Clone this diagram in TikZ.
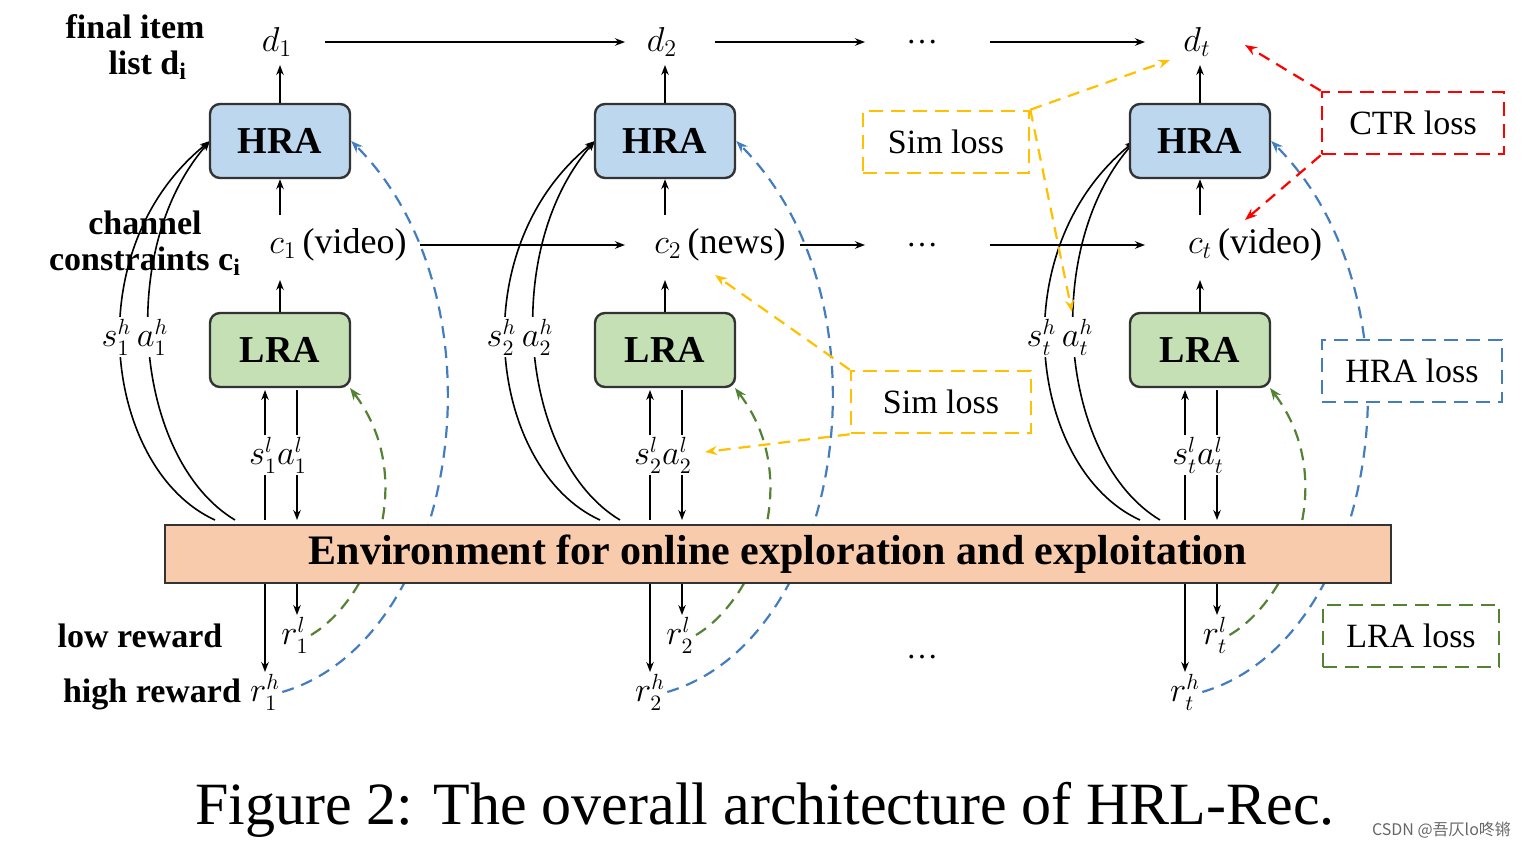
\documentclass[tikz,border=0pt]{standalone}
\usepackage{fontspec}
\setmainfont{Liberation Serif}
\newfontfamily\cjk{Noto Sans CJK SC}
\usetikzlibrary{arrows.meta}
\begin{document}
\begin{tikzpicture}[x=0.5pt,y=-0.5pt,
 box/.style={draw=black!80,line width=1.2pt,rounded corners=5pt,minimum width=70pt,minimum height=37pt,font=\fontsize{19}{20}\selectfont\bfseries},
 hra/.style={box,fill={rgb,255:red,189;green,215;blue,238}},
 lra/.style={box,fill={rgb,255:red,197;green,224;blue,180}},
 arr/.style={-{Stealth[length=5pt]},line width=0.8pt},
 lbl/.style={font=\fontsize{16}{17}\selectfont,inner sep=1pt},
 loss/.style={dashed,line width=1.3pt,dash pattern=on 7pt off 4pt,minimum height=31pt,font=\fontsize{17}{18}\selectfont,inner sep=4pt},
 dsh/.style={-{Stealth[length=6pt]},dashed,line width=1.1pt,dash pattern=on 6pt off 4pt},
 bt/.style={font=\fontsize{17}{18}\selectfont\bfseries,align=center}]
\useasboundingbox (0,0) rectangle (1531,851);
\definecolor{myyel}{RGB}{255,192,0}
\definecolor{myblu}{RGB}{68,125,190}
\definecolor{mygrn}{RGB}{84,130,53}
\foreach \i/\x/\s in {1/135/1,2/520/2,3/1060/t}{
 \draw[arr] (\x+80,520) .. controls (\x-30,470) and (\x-60,250) .. ({\x+75},141);
 \draw[arr] (\x+100,520) .. controls (\x,460) and (\x-20,250) .. ({\x+75},141);
 \node[lbl,fill=white] (sh\i) at (\x,337) {$s^h_{\s}\,a^h_{\s}$};
}
\foreach \i/\x/\s/\c/\cx in {1/280/1/video/338,2/665/2/news/720,3/1200/t/video/1255}{
 \node[hra] (H\i) at (\x,141) {HRA};
 \node[lra] (L\i) at (\x,350) {LRA};
 \node[lbl,font=\fontsize{18}{19}\selectfont] (d\i) at (\x-3,42) {$d_{\s}$};
 \node[lbl,font=\fontsize{18}{19}\selectfont] (c\i) at (\cx,245) {$c_{\s}$\,(\c)};
 \node[lbl] (sl\i) at (\x-2,455) {$s^l_{\s}a^l_{\s}$};
 \node[lbl] (rl\i) at (\x+15,635) {$r^l_{\s}$};
 \node[lbl] (rh\i) at (\x-15,692) {$r^h_{\s}$};
 \coordinate (cb\i) at (\x,280); \coordinate (ct\i) at (\x,215);
 \draw[arr] (L\i.north) -- (cb\i);
 \draw[arr] (ct\i) -- (H\i.south);
 \draw[arr] (H\i.north) -- (\x,65);
 \draw[line width=0.8pt] (\x-15,520) -- (\x-15,475);
 \draw[arr] (\x-15,435) -- (\x-15,390);
 \draw[line width=0.8pt] (\x+17,390) -- (\x+17,435);
 \draw[arr] (\x+17,475) -- (\x+17,520);
 \draw[arr] (\x-15,583) -- (\x-15,672);
 \draw[arr] (\x+17,583) -- (\x+17,615);
 \draw[dsh,mygrn] (rl\i.east) .. controls (\x+90,600) and (\x+140,480) .. (\x+70,388);
 \draw[dsh,myblu] (rh\i.east) .. controls (\x+180,640) and (\x+230,300) .. (H\i.east);
}
\node[draw=black!80,line width=1.3pt,fill={rgb,255:red,248;green,203;blue,173},minimum width=613pt,minimum height=29pt,font=\fontsize{21}{22}\selectfont\bfseries] (env) at (778,554) {Environment for online exploration and exploitation};
\node[lbl] (dd) at (922,42) {\dots};
\node[lbl] (cd) at (922,245) {\dots};
\node[lbl] (bd) at (922,657) {\dots};
\draw[arr] (325,42) -- (625,42);
\draw[arr] (715,42) -- (865,42);
\draw[arr] (990,42) -- (1145,42);
\draw[arr] (420,245) -- (625,245);
\draw[arr] (800,245) -- (865,245);
\draw[arr] (990,245) -- (1145,245);
\node[bt] (fl) at (135,47) {final item\\\ \ \ list d\textsubscript{i}};
\node[bt] (cc) at (145,243) {channel\\constraints c\textsubscript{i}};
\node[bt] (lr) at (140,636) {low reward};
\node[bt,anchor=east] (hr) at (248,694) {high reward};
\node[loss,draw=red,minimum width=91pt] (ctr) at (1413,123) {CTR loss};
\node[loss,draw=myblu,minimum width=90pt,fill=white] (hral) at (1412,371) {HRA loss};
\node[loss,draw=mygrn,minimum width=88pt] (lral) at (1411,636) {LRA loss};
\node[loss,draw=myyel,minimum width=83pt] (sim1) at (946,142) {Sim loss};
\node[loss,draw=myyel,minimum width=90pt] (sim2) at (941,402) {Sim loss};
\draw[dsh,red] (ctr.north west) -- (1245,45);
\draw[dsh,red] (ctr.south west) -- (1245,220);
\draw[dsh,myyel] (sim1.north east) -- (1170,60);
\draw[dsh,myyel] (sim1.north east) -- (1072,312);
\draw[dsh,myyel] (sim2.north west) -- (715,275);
\draw[dsh,myyel] (sim2.south west) -- (705,452);
\node[font=\fontsize{30}{31}\selectfont] (cap) at (765,810) {Figure 2: The overall architecture of HRL-Rec.};
\node[font=\cjk\fontsize{8}{9}\selectfont,text=black!60,anchor=east] (wm) at (1518,830) {CSDN @吾仄lo咚锵};
\end{tikzpicture}
\end{document}
